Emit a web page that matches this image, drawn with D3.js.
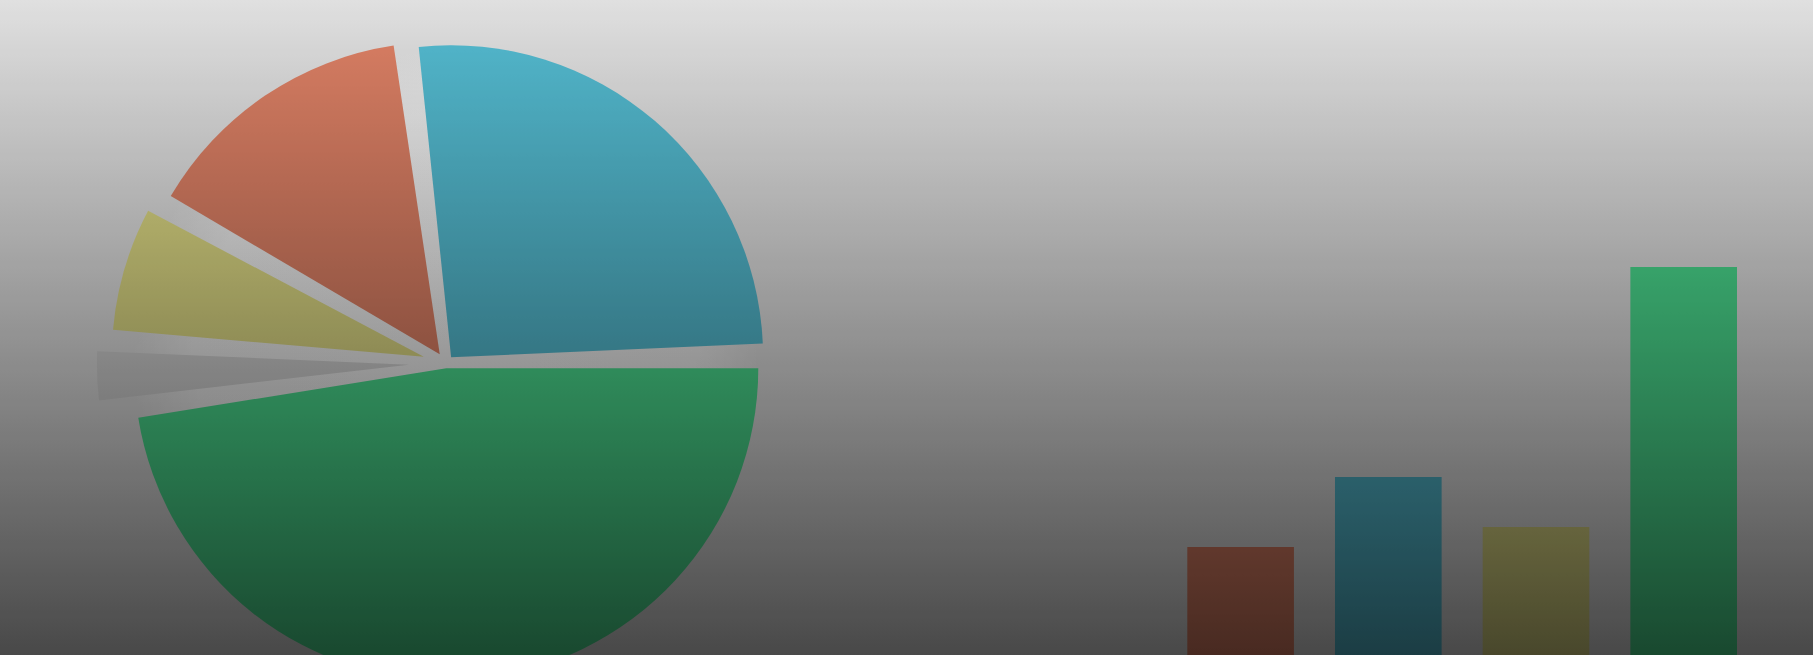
<!DOCTYPE html>
<html>
<head>
<meta charset="utf-8">
<script src="https://cdn.jsdelivr.net/npm/d3@7"></script>
<style>
  html, body { margin: 0; padding: 0; background: #e0e0e0; overflow: hidden; }
  svg { display: block; }
</style>
</head>
<body>
<script>
// ---- data ----
const pieCategories = ["Green", "Gray", "Yellow", "Orange", "Blue"];
const pieValues     = [49.2, 2.6, 6.6, 14.7, 26.9];
const barCategories = ["Orange", "Blue", "Yellow", "Green"];
const barValues     = [15.3, 22.3, 17.3, 43.3];

// ---- styles ----
const baseColors = { Green: "#4de494", Gray: "#d8d8d8", Yellow: "#e4e088", Orange: "#e28367", Blue: "#55bfd5" };
const explode    = { Green: 5, Gray: 37, Yellow: 23, Orange: 11, Blue: 8 };

const W = 1813, H = 655;
const svg = d3.select("body").append("svg").attr("width", W).attr("height", H);
const defs = svg.append("defs");

// background base
svg.append("rect").attr("width", W).attr("height", H).attr("fill", "#e4e4e4");

const cx = 445.9, cy = 363.3, R = 312;

// lighter disc behind the pie (shows through the gaps between slices), soft edge
const glow = defs.append("radialGradient").attr("id", "glow")
  .attr("gradientUnits", "userSpaceOnUse").attr("cx", cx).attr("cy", cy).attr("r", R);
glow.append("stop").attr("offset", "0").attr("stop-color", "#f6f6f6");
glow.append("stop").attr("offset", "0.8").attr("stop-color", "#f3f3f3");
glow.append("stop").attr("offset", "1").attr("stop-color", "#e4e4e4");
svg.append("circle").attr("cx", cx).attr("cy", cy).attr("r", R).attr("fill", "url(#glow)");

// ---- pie ----
const pad = 2.54 * Math.PI / 180;
const pie = d3.pie().sort(null).value(d => d.v)
  .startAngle(Math.PI / 2 - pad / 2).endAngle(Math.PI / 2 - pad / 2 + 2 * Math.PI)
  .padAngle(pad);
const arc = d3.arc().innerRadius(0).outerRadius(R);
const pieData = pie(pieCategories.map((c, i) => ({ c, v: pieValues[i] })));

const pg = svg.append("g").attr("transform", `translate(${cx},${cy})`);
pg.selectAll("path").data(pieData).join("path")
  .attr("d", arc)
  .attr("fill", d => baseColors[d.data.c])
  .attr("transform", d => {
    const a = (d.startAngle + d.endAngle) / 2, e = explode[d.data.c];
    return `translate(${Math.sin(a) * e},${-Math.cos(a) * e})`;
  });

// ---- bars ----
const x = d3.scaleBand().domain(barCategories).range([1187.3, 1737.0]).paddingInner(0.278).paddingOuter(0);
const y = d3.scaleLinear().domain([0, 50]).range([700, 200]);
svg.append("g").selectAll("rect").data(barCategories).join("rect")
  .attr("x", d => x(d))
  .attr("width", x.bandwidth())
  .attr("y", (d, i) => y(barValues[i]))
  .attr("height", (d, i) => y(0) - y(barValues[i]))
  .attr("fill", d => baseColors[d]);

// ---- shading overlay (multiply) ----
const shade = defs.append("linearGradient").attr("id", "shade")
  .attr("x1", 0).attr("y1", 0).attr("x2", 0).attr("y2", 1);
shade.append("stop").attr("offset", "0").attr("stop-color", "#fbfbfb");
shade.append("stop").attr("offset", "1").attr("stop-color", "#515151");
svg.append("rect").attr("width", W).attr("height", H)
  .attr("fill", "url(#shade)").style("mix-blend-mode", "multiply");
</script>
</body>
</html>
